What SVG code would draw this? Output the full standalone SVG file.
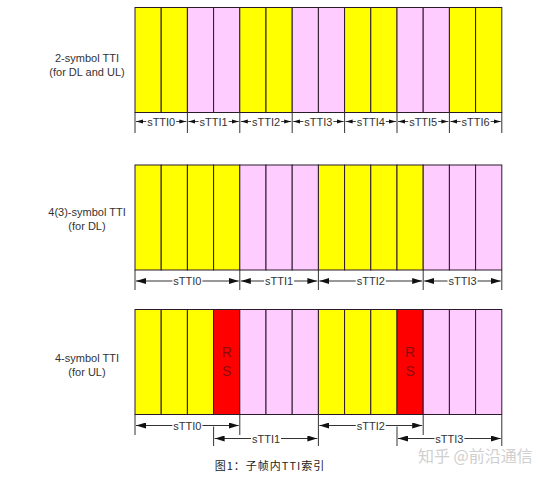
<svg xmlns="http://www.w3.org/2000/svg" width="548" height="478" viewBox="0 0 548 478">
<style>
.y{fill:#ffff00}
.p{fill:#ffccff}
.r{fill:#ff0000}
.cell{stroke:#2a1a2a;stroke-width:1}
.lbl{font-family:"Liberation Sans",Arial,sans-serif;font-size:11px;fill:#333;text-anchor:middle}
.dim{font-family:"Liberation Sans",Arial,sans-serif;font-size:11px;fill:#333;text-anchor:middle}
.rs{font-family:"Liberation Sans",Arial,sans-serif;font-size:14px;fill:#8c0c0c;text-anchor:middle}
.tick{stroke:#333;stroke-width:1}
.a1{stroke:#444;stroke-width:1;marker-start:url(#ms);marker-end:url(#ms)}
.a2{stroke:#333;stroke-width:1;marker-start:url(#ml);marker-end:url(#ml)}
.bg{fill:#fff}
.cap{font-family:"Noto Sans CJK SC","Noto Sans",sans-serif;font-size:11px;fill:#222;text-anchor:middle;letter-spacing:1px}
.wm{font-family:"Noto Sans CJK SC","Noto Sans",sans-serif;font-size:16px;fill:#cfcfcf}
</style>
<defs>
<marker id="ms" viewBox="0 0 10 6" refX="10" refY="3" markerWidth="7" markerHeight="4.5" markerUnits="userSpaceOnUse" orient="auto-start-reverse"><path d="M0,0 L10,3 L0,6 z" fill="#111"/></marker>
<marker id="ml" viewBox="0 0 10 6" refX="10" refY="3" markerWidth="10" markerHeight="6" markerUnits="userSpaceOnUse" orient="auto-start-reverse"><path d="M0,0 L10,3 L0,6 z" fill="#111"/></marker>
</defs>
<rect width="548" height="478" fill="#fff"/>

<g id="row1">
<text class="lbl" x="87" y="62">2-symbol TTI</text>
<text class="lbl" x="87" y="76">(for DL and UL)</text>
<g class="cell">
<rect class="y" x="135" y="7.5" width="26.2" height="105"/>
<rect class="y" x="161.2" y="7.5" width="26.2" height="105"/>
<rect class="p" x="187.4" y="7.5" width="26.2" height="105"/>
<rect class="p" x="213.6" y="7.5" width="26.2" height="105"/>
<rect class="y" x="239.8" y="7.5" width="26.2" height="105"/>
<rect class="y" x="266" y="7.5" width="26.2" height="105"/>
<rect class="p" x="292.2" y="7.5" width="26.2" height="105"/>
<rect class="p" x="318.4" y="7.5" width="26.2" height="105"/>
<rect class="y" x="344.6" y="7.5" width="26.2" height="105"/>
<rect class="y" x="370.8" y="7.5" width="26.2" height="105"/>
<rect class="p" x="397" y="7.5" width="26.2" height="105"/>
<rect class="p" x="423.2" y="7.5" width="26.2" height="105"/>
<rect class="y" x="449.4" y="7.5" width="26.2" height="105"/>
<rect class="y" x="475.6" y="7.5" width="26.2" height="105"/>
</g>
</g>

<g id="row2">
<text class="lbl" x="87" y="216">4(3)-symbol TTI</text>
<text class="lbl" x="87" y="230">(for DL)</text>
<g class="cell">
<rect class="y" x="135" y="165" width="26.2" height="105"/>
<rect class="y" x="161.2" y="165" width="26.2" height="105"/>
<rect class="y" x="187.4" y="165" width="26.2" height="105"/>
<rect class="y" x="213.6" y="165" width="26.2" height="105"/>
<rect class="p" x="239.8" y="165" width="26.2" height="105"/>
<rect class="p" x="266" y="165" width="26.2" height="105"/>
<rect class="p" x="292.2" y="165" width="26.2" height="105"/>
<rect class="y" x="318.4" y="165" width="26.2" height="105"/>
<rect class="y" x="344.6" y="165" width="26.2" height="105"/>
<rect class="y" x="370.8" y="165" width="26.2" height="105"/>
<rect class="y" x="397" y="165" width="26.2" height="105"/>
<rect class="p" x="423.2" y="165" width="26.2" height="105"/>
<rect class="p" x="449.4" y="165" width="26.2" height="105"/>
<rect class="p" x="475.6" y="165" width="26.2" height="105"/>
</g>
</g>

<g id="row3">
<text class="lbl" x="87" y="362">4-symbol TTI</text>
<text class="lbl" x="87" y="376">(for UL)</text>
<g class="cell">
<rect class="y" x="135" y="309.5" width="26.2" height="105"/>
<rect class="y" x="161.2" y="309.5" width="26.2" height="105"/>
<rect class="y" x="187.4" y="309.5" width="26.2" height="105"/>
<rect class="r" x="213.6" y="309.5" width="26.2" height="105"/>
<rect class="p" x="239.8" y="309.5" width="26.2" height="105"/>
<rect class="p" x="266" y="309.5" width="26.2" height="105"/>
<rect class="p" x="292.2" y="309.5" width="26.2" height="105"/>
<rect class="y" x="318.4" y="309.5" width="26.2" height="105"/>
<rect class="y" x="344.6" y="309.5" width="26.2" height="105"/>
<rect class="y" x="370.8" y="309.5" width="26.2" height="105"/>
<rect class="r" x="397" y="309.5" width="26.2" height="105"/>
<rect class="p" x="423.2" y="309.5" width="26.2" height="105"/>
<rect class="p" x="449.4" y="309.5" width="26.2" height="105"/>
<rect class="p" x="475.6" y="309.5" width="26.2" height="105"/>
</g>
<text class="rs" x="226.7" y="357">R</text>
<text class="rs" x="226.7" y="376">S</text>
<text class="rs" x="410.1" y="357">R</text>
<text class="rs" x="410.1" y="376">S</text>
</g>

<g id="connectors">
<g class="tick">
<line x1="135" y1="112.5" x2="135" y2="133"/>
<line x1="187.4" y1="112.5" x2="187.4" y2="133"/>
<line x1="239.8" y1="112.5" x2="239.8" y2="133"/>
<line x1="292.2" y1="112.5" x2="292.2" y2="133"/>
<line x1="344.6" y1="112.5" x2="344.6" y2="133"/>
<line x1="397" y1="112.5" x2="397" y2="133"/>
<line x1="449.4" y1="112.5" x2="449.4" y2="133"/>
<line x1="501.8" y1="112.5" x2="501.8" y2="133"/>
</g>
<line class="a1" x1="136" y1="121.5" x2="186.4" y2="121.5"/>
<line class="a1" x1="188.4" y1="121.5" x2="238.8" y2="121.5"/>
<line class="a1" x1="240.8" y1="121.5" x2="291.2" y2="121.5"/>
<line class="a1" x1="293.2" y1="121.5" x2="343.6" y2="121.5"/>
<line class="a1" x1="345.6" y1="121.5" x2="396" y2="121.5"/>
<line class="a1" x1="398" y1="121.5" x2="448.4" y2="121.5"/>
<line class="a1" x1="450.4" y1="121.5" x2="500.8" y2="121.5"/>
<g class="bg">
<rect x="146.2" y="115" width="30" height="12"/>
<rect x="198.6" y="115" width="30" height="12"/>
<rect x="251" y="115" width="30" height="12"/>
<rect x="303.4" y="115" width="30" height="12"/>
<rect x="355.8" y="115" width="30" height="12"/>
<rect x="408.2" y="115" width="30" height="12"/>
<rect x="460.6" y="115" width="30" height="12"/>
</g>
<text class="dim" x="161.2" y="125.5">sTTI0</text>
<text class="dim" x="213.6" y="125.5">sTTI1</text>
<text class="dim" x="266" y="125.5">sTTI2</text>
<text class="dim" x="318.4" y="125.5">sTTI3</text>
<text class="dim" x="370.8" y="125.5">sTTI4</text>
<text class="dim" x="423.2" y="125.5">sTTI5</text>
<text class="dim" x="475.6" y="125.5">sTTI6</text>

<g class="tick">
<line x1="135" y1="270" x2="135" y2="290"/>
<line x1="239.8" y1="270" x2="239.8" y2="290"/>
<line x1="318.4" y1="270" x2="318.4" y2="290"/>
<line x1="423.2" y1="270" x2="423.2" y2="290"/>
<line x1="501.8" y1="270" x2="501.8" y2="290"/>
</g>
<line class="a2" x1="136" y1="281" x2="238.8" y2="281"/>
<line class="a2" x1="240.8" y1="281" x2="317.4" y2="281"/>
<line class="a2" x1="319.4" y1="281" x2="422.2" y2="281"/>
<line class="a2" x1="424.2" y1="281" x2="500.8" y2="281"/>
<g class="bg">
<rect x="172.4" y="274" width="30" height="13"/>
<rect x="264.1" y="274" width="30" height="13"/>
<rect x="355.8" y="274" width="30" height="13"/>
<rect x="447.5" y="274" width="30" height="13"/>
</g>
<text class="dim" x="187.4" y="285">sTTI0</text>
<text class="dim" x="279.1" y="285">sTTI1</text>
<text class="dim" x="370.8" y="285">sTTI2</text>
<text class="dim" x="462.5" y="285">sTTI3</text>

<g class="tick">
<line x1="135" y1="414.5" x2="135" y2="435"/>
<line x1="239.8" y1="414.5" x2="239.8" y2="435"/>
<line x1="213.6" y1="426.5" x2="213.6" y2="446"/>
<line x1="318.4" y1="414.5" x2="318.4" y2="446"/>
<line x1="423.2" y1="414.5" x2="423.2" y2="435"/>
<line x1="397" y1="426.5" x2="397" y2="446"/>
<line x1="501.8" y1="414.5" x2="501.8" y2="446"/>
</g>
<line class="a2" x1="136" y1="425.5" x2="238.8" y2="425.5"/>
<line class="a2" x1="214.6" y1="438.5" x2="317.4" y2="438.5"/>
<line class="a2" x1="319.4" y1="425.5" x2="422.2" y2="425.5"/>
<line class="a2" x1="398" y1="438.5" x2="500.8" y2="438.5"/>
<g class="bg">
<rect x="172.4" y="418.5" width="30" height="13"/>
<rect x="251" y="431.5" width="30" height="13"/>
<rect x="355.8" y="418.5" width="30" height="13"/>
<rect x="434.4" y="431.5" width="30" height="13"/>
</g>
<text class="dim" x="187.4" y="429.5">sTTI0</text>
<text class="dim" x="266" y="442.5">sTTI1</text>
<text class="dim" x="370.8" y="429.5">sTTI2</text>
<text class="dim" x="449.4" y="442.5">sTTI3</text>
</g>

<text class="cap" x="270" y="470">图1：子帧内TTI索引</text>
<text class="wm" x="418" y="462">知乎 @前沿通信</text>
</svg>
